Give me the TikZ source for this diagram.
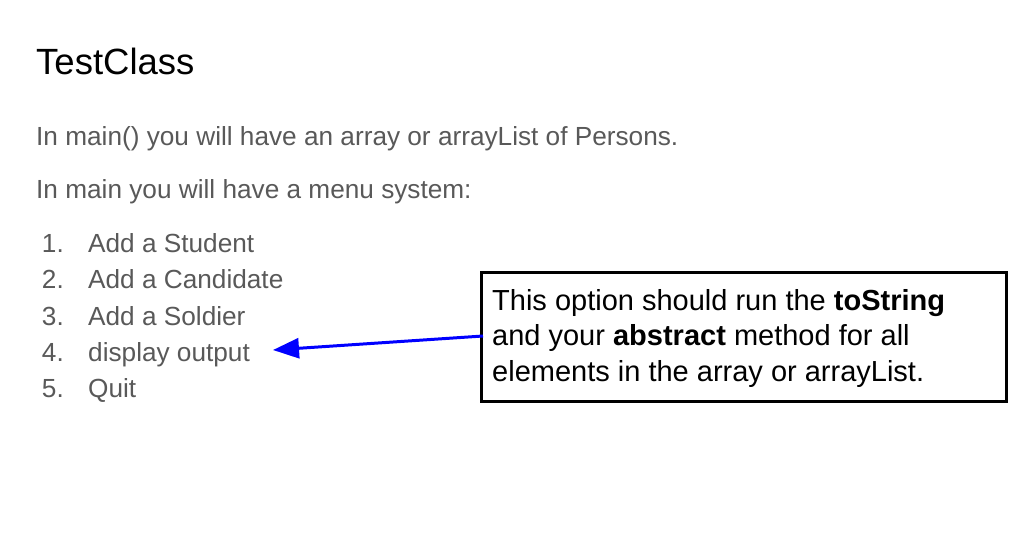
\documentclass[tikz,border=0pt]{standalone}
\usepackage{fontspec}
\setmainfont{Liberation Sans}
\usetikzlibrary{arrows.meta}
\definecolor{gtxt}{HTML}{595959}
\begin{document}
\begin{tikzpicture}[x=1pt,y=-1pt,
 body/.style={anchor=base west,inner sep=0,text=gtxt,font=\fontsize{26.2}{30}\selectfont},
 num/.style={anchor=base east,inner sep=0,text=gtxt,font=\fontsize{26.2}{30}\selectfont},
 btxt/.style={anchor=base west,inner sep=0,font=\fontsize{29}{34}\selectfont}]
\useasboundingbox[fill=white] (0,0) rectangle (1024,542);
\node[anchor=base west,inner sep=0,font=\fontsize{36.5}{42}\selectfont] (title) at (36,74) {TestClass};
\node[body] (l1) at (36,145) {In main() you will have an array or arrayList of Persons.};
\node[body] (l2) at (36,198) {In main you will have a menu system:};
\foreach \n/\t/\y in {1/Add a Student/252,2/Add a Candidate/288,3/Add a Soldier/325,4/display output/361,5/Quit/397}{
 \node[num] (n\n) at (64,\y) {\n.};
 \node[body] (i\n) at (88,\y) {\t};
}
\draw[line width=3pt] (481,272) rectangle (1006,401);
\node[btxt] (b1) at (492,310) {This option should run the \textbf{toString}};
\node[btxt] (b2) at (492,345) {and your \textbf{abstract} method for all};
\node[btxt] (b3) at (492,381) {elements in the array or arrayList.};
\coordinate (bs) at (483,336);
\draw[blue,line width=3pt,-{Triangle[length=26pt,width=20pt]}] (bs) -- (273,350);
\end{tikzpicture}
\end{document}
